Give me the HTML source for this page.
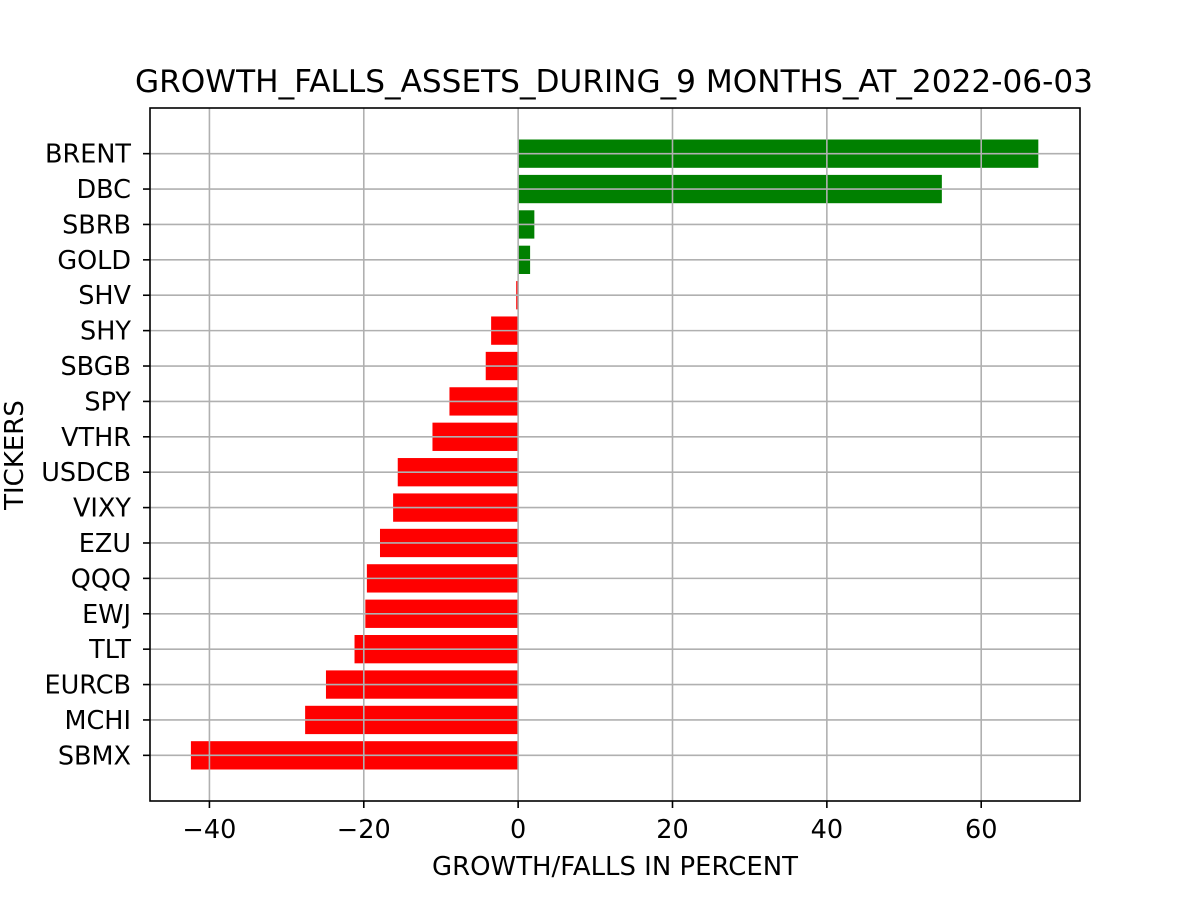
<!DOCTYPE html>
<html><head><meta charset="utf-8"><style>
html,body{margin:0;padding:0;background:#fff;}
svg text{font-family:"DejaVu Sans","Liberation Sans",sans-serif;fill:#000;}
</style></head><body>
<svg id="chart" width="1200" height="900" xmlns="http://www.w3.org/2000/svg">
<rect width="1200" height="900" fill="#fff"/>
<text x="614" y="92" font-size="31" text-anchor="middle" textLength="958" lengthAdjust="spacingAndGlyphs">GROWTH_FALLS_ASSETS_DURING_9 MONTHS_AT_2022-06-03</text>
<text x="615" y="875" font-size="26" text-anchor="middle" textLength="366" lengthAdjust="spacingAndGlyphs">GROWTH/FALLS IN PERCENT</text>
<text x="0" y="0" font-size="26" text-anchor="middle" transform="translate(23,455) rotate(-90)">TICKERS</text>
<g id="bars"></g><g id="grid"></g><g id="ticks"></g>
<rect x="150" y="108" width="930" height="693" fill="none" stroke="#000" stroke-width="1.6"/>
</svg>
<script>
const categories = ["BRENT","DBC","SBRB","GOLD","SHV","SHY","SBGB","SPY","VTHR","USDCB","VIXY","EZU","QQQ","EWJ","TLT","EURCB","MCHI","SBMX"];
const values = [67.4,54.9,2.1,1.55,-0.25,-3.5,-4.2,-8.9,-11.1,-15.6,-16.2,-17.9,-19.6,-19.8,-21.2,-24.9,-27.6,-42.4];
const xTicks = [-40,-20,0,20,40,60];
const tickLabels = ["\u221240","\u221220","0","20","40","60"];

const L=150,R=1080,T=108,B=801;
const xMin=-47.7,xMax=72.8;
const n=categories.length;
function x(v){return L+(v-xMin)/(xMax-xMin)*(R-L);}
function y(i){return T+(i-(-1.29))/((n-1+1.29)-(-1.29))*(B-T);}
const step=y(1)-y(0);
const NS="http://www.w3.org/2000/svg";
function mk(tag,attrs,parent){const e=document.createElementNS(NS,tag);for(const k in attrs)e.setAttribute(k,attrs[k]);parent.appendChild(e);return e;}
const gb=document.getElementById('bars'),gg=document.getElementById('grid'),gt=document.getElementById('ticks');
categories.forEach((c,i)=>{
  const v=values[i],x0=x(Math.min(0,v)),x1=x(Math.max(0,v)),h=step*0.8;
  const r=mk('rect',{x:x0,y:y(i)-h/2,width:Math.max(x1-x0,0.5),height:h,fill:v>=0?'#008000':'#ff0000'},gb);
  
  
  const gl=mk('line',{x1:L,x2:R,y1:y(i),y2:y(i),stroke:'#b0b0b0','stroke-width':1.6},gg);
  
  
  const tk=mk('line',{x1:L-7,x2:L,y1:y(i),y2:y(i),stroke:'#000','stroke-width':1.6},gt);
  
  
  const t=mk('text',{x:L-19,y:y(i)+9,'font-size':25.5,'text-anchor':'end'},gt);
  t.textContent=c;
  
  
});
xTicks.forEach((v,i)=>{
  const gl=mk('line',{x1:x(v),x2:x(v),y1:T,y2:B,stroke:'#b0b0b0','stroke-width':1.6},gg);
  
  
  const tk=mk('line',{x1:x(v),x2:x(v),y1:B,y2:B+7,stroke:'#000','stroke-width':1.6},gt);
  
  
  const t=mk('text',{x:x(v),y:B+37,'font-size':25.5,'text-anchor':'middle'},gt);
  t.textContent=tickLabels[i];
  
  
});
</script>
</body></html>
